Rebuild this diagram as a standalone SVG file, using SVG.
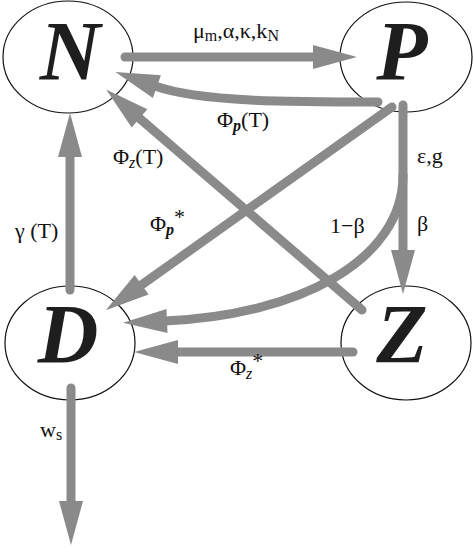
<svg xmlns="http://www.w3.org/2000/svg" width="474" height="554" viewBox="0 0 474 554">
<style>
.node{fill:#fff;stroke:#111;stroke-width:1.2}
.big{font-family:"Liberation Serif",serif;font-weight:bold;font-style:italic;font-size:84px;fill:#1e1e1e;text-anchor:middle}
.lab{font-family:"Liberation Serif",serif;font-size:22px;fill:#111}
.arr{fill:none;stroke:#8a8a8a;stroke-width:9;stroke-linecap:round;marker-end:url(#head)}
.sub{font-size:16px}
</style>
<defs>
<marker id="head" markerUnits="userSpaceOnUse" markerWidth="46" markerHeight="26" refX="2" refY="12" orient="auto" overflow="visible">
<path d="M0,0 L44,12 L0,24 Z" fill="#8a8a8a"/>
</marker>
</defs>
<g id="N"><ellipse class="node" cx="68" cy="57" rx="65" ry="56"/><text class="big" x="70" y="80">N</text></g>
<g id="P"><ellipse class="node" cx="406" cy="57" rx="66" ry="55"/><text class="big" x="402" y="80">P</text></g>
<g id="D"><ellipse class="node" cx="70" cy="343" rx="65" ry="57"/><text class="big" x="68" y="363">D</text></g>
<g id="Z"><ellipse class="node" cx="406" cy="343" rx="65" ry="57"/><text class="big" x="402" y="363">Z</text></g>
<g id="connectors">
<path class="arr" d="M125,57 L315,57"/>
<path class="arr" d="M378,102 C290,102 200,102 155,86"/>
<path class="arr" d="M362,310 L138,117"/>
<path class="arr" d="M392,107 L140,286"/>
<path class="arr" d="M403,105 L403,252"/>
<path class="arr" d="M403,175 C403,260 300,315 165,321"/>
<path class="arr" d="M353,352 L176,352"/>
<path class="arr" d="M70,290 L70,155"/>
<path class="arr" d="M71,388 L71,503"/>
</g>
<g id="labels">
<text class="lab" x="193" y="38">μ<tspan class="sub" dy="3">m</tspan><tspan dy="-3">,α,κ,k</tspan><tspan class="sub" dy="3">N</tspan></text>
<text class="lab" x="217" y="127">Φ<tspan class="sub" dy="4" font-weight="bold" font-style="italic">p</tspan><tspan dy="-4">(T)</tspan></text>
<text class="lab" x="113" y="164">Φ<tspan class="sub" dy="4" font-style="italic">z</tspan><tspan dy="-4">(T)</tspan></text>
<text class="lab" x="150" y="231">Φ<tspan class="sub" dy="4" font-style="italic" font-weight="bold">p</tspan><tspan dy="-11">*</tspan></text>
<text class="lab" x="330" y="233">1−β</text>
<text class="lab" x="417" y="231">β</text>
<text class="lab" x="417" y="163">ε,g</text>
<text class="lab" x="15" y="238">γ (T)</text>
<text class="lab" x="230" y="375">Φ<tspan class="sub" dy="4" font-style="italic">z</tspan><tspan dy="-11">*</tspan></text>
<text class="lab" x="40" y="437">w<tspan class="sub" dy="3">s</tspan></text>
</g>
</svg>
